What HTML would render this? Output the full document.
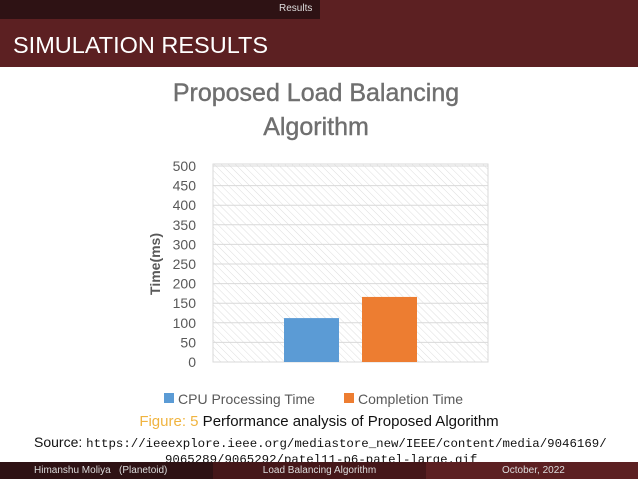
<!DOCTYPE html>
<html><head><meta charset="utf-8"><style>
body{margin:0;width:638px;height:479px;overflow:hidden;background:#fff;font-family:"Liberation Sans","DejaVu Sans",sans-serif;position:relative}
.abs{position:absolute}
</style></head><body>
<div class="abs" style="left:0;top:0;width:320px;height:19px;background:#2e1214"></div>
<div class="abs" style="left:320px;top:0;width:318px;height:19px;background:#5c2022"></div>
<div class="abs" style="left:279px;top:3px;font-size:10px;color:#ddd">Results</div>
<div class="abs" style="left:0;top:19px;width:638px;height:48px;background:#5c2022"></div>
<div class="abs" style="left:13px;top:32px;font-size:23.5px;color:#fff">SIMULATION RESULTS</div>

<svg class="abs" style="left:0;top:0" width="638" height="479">
<defs><pattern id="h" width="5" height="5" patternUnits="userSpaceOnUse" patternTransform="rotate(-45)"><line x1="0" y1="0" x2="0" y2="5" stroke="#ddd" stroke-width="1"/></pattern></defs>
<text x="316" y="101" text-anchor="middle" font-size="25" fill="#6f6f6f" stroke="#6f6f6f" stroke-width="0.4">Proposed Load Balancing</text>
<text x="316" y="135" text-anchor="middle" font-size="25" fill="#6f6f6f" stroke="#6f6f6f" stroke-width="0.4">Algorithm</text>
<rect x="213" y="164" width="275" height="198" fill="url(#h)" stroke="#d9d9d9"/>
<g id="grid"></g><g id="bars"></g><g id="ticks"></g>
<text transform="translate(160,264) rotate(-90)" text-anchor="middle" font-size="14" font-weight="bold" fill="#595959">Time(ms)</text>
<rect x="164" y="393" width="10" height="10" fill="#5b9bd5"/>
<text x="178" y="404" font-size="14" fill="#595959">CPU Processing Time</text>
<rect x="344" y="393" width="10" height="10" fill="#ed7d31"/>
<text x="358" y="404" font-size="14" fill="#595959">Completion Time</text>
</svg>

<div class="abs" style="left:0;width:638px;top:413px;text-align:center;font-size:15px;color:#111"><span style="color:#f0b440">Figure: 5</span> Performance analysis of Proposed Algorithm</div>
<div class="abs" style="left:34px;top:434px;font-size:14px;color:#111;white-space:nowrap">Source: <span style="font-family:'Liberation Mono',monospace;font-size:12.4px">https://ieeexplore.ieee.org/mediastore_new/IEEE/content/media/9046169/</span></div>
<div class="abs" style="left:165px;top:453px;font-family:'Liberation Mono',monospace;font-size:12.4px;color:#111;white-space:nowrap">9065289/9065292/patel11-p6-patel-large.gif</div>
<div class="abs" style="left:0;top:462px;width:213px;height:17px;background:#2e1214;color:#ddd;font-size:10px;line-height:17px;text-indent:34px">Himanshu Moliya &nbsp;&nbsp;(Planetoid)</div>
<div class="abs" style="left:213px;top:462px;width:213px;height:17px;background:#451719;color:#ddd;font-size:10px;line-height:17px;text-align:center">Load Balancing Algorithm</div>
<div class="abs" style="left:426px;top:462px;width:212px;height:17px;background:#5c2022;color:#ddd;font-size:10px;line-height:17px;text-indent:76px">October, 2022</div>

<script>
const categories=["CPU Processing Time","Completion Time"];
const values=[112,166];
const colors=["#5b9bd5","#ed7d31"];
const tickValues=[0,50,100,150,200,250,300,350,400,450,500];
const NS="http://www.w3.org/2000/svg";
const y0=362,y1=166,yMax=500;
function y(v){return y0-(v/yMax)*(y0-y1);}
function x(i){return 284+i*78;}
const grid=document.getElementById('grid'),ticks=document.getElementById('ticks'),bars=document.getElementById('bars');
tickValues.forEach(t=>{
 const l=document.createElementNS(NS,'line');
 l.setAttribute('x1',213);l.setAttribute('x2',488);l.setAttribute('y1',y(t));l.setAttribute('y2',y(t));
 l.setAttribute('stroke','#d9d9d9');
 
 
 grid.appendChild(l);
 const tx=document.createElementNS(NS,'text');
 tx.setAttribute('x',196);tx.setAttribute('y',y(t)+5);tx.setAttribute('text-anchor','end');
 tx.setAttribute('font-size','14');tx.setAttribute('fill','#595959');tx.textContent=t;
 
 
 ticks.appendChild(tx);
});
values.forEach((v,i)=>{
 const r=document.createElementNS(NS,'rect');
 r.setAttribute('x',x(i));r.setAttribute('width',55);r.setAttribute('y',y(v));r.setAttribute('height',y0-y(v));
 r.setAttribute('fill',colors[i]);
 
 
 bars.appendChild(r);
});
</script>
</body></html>
